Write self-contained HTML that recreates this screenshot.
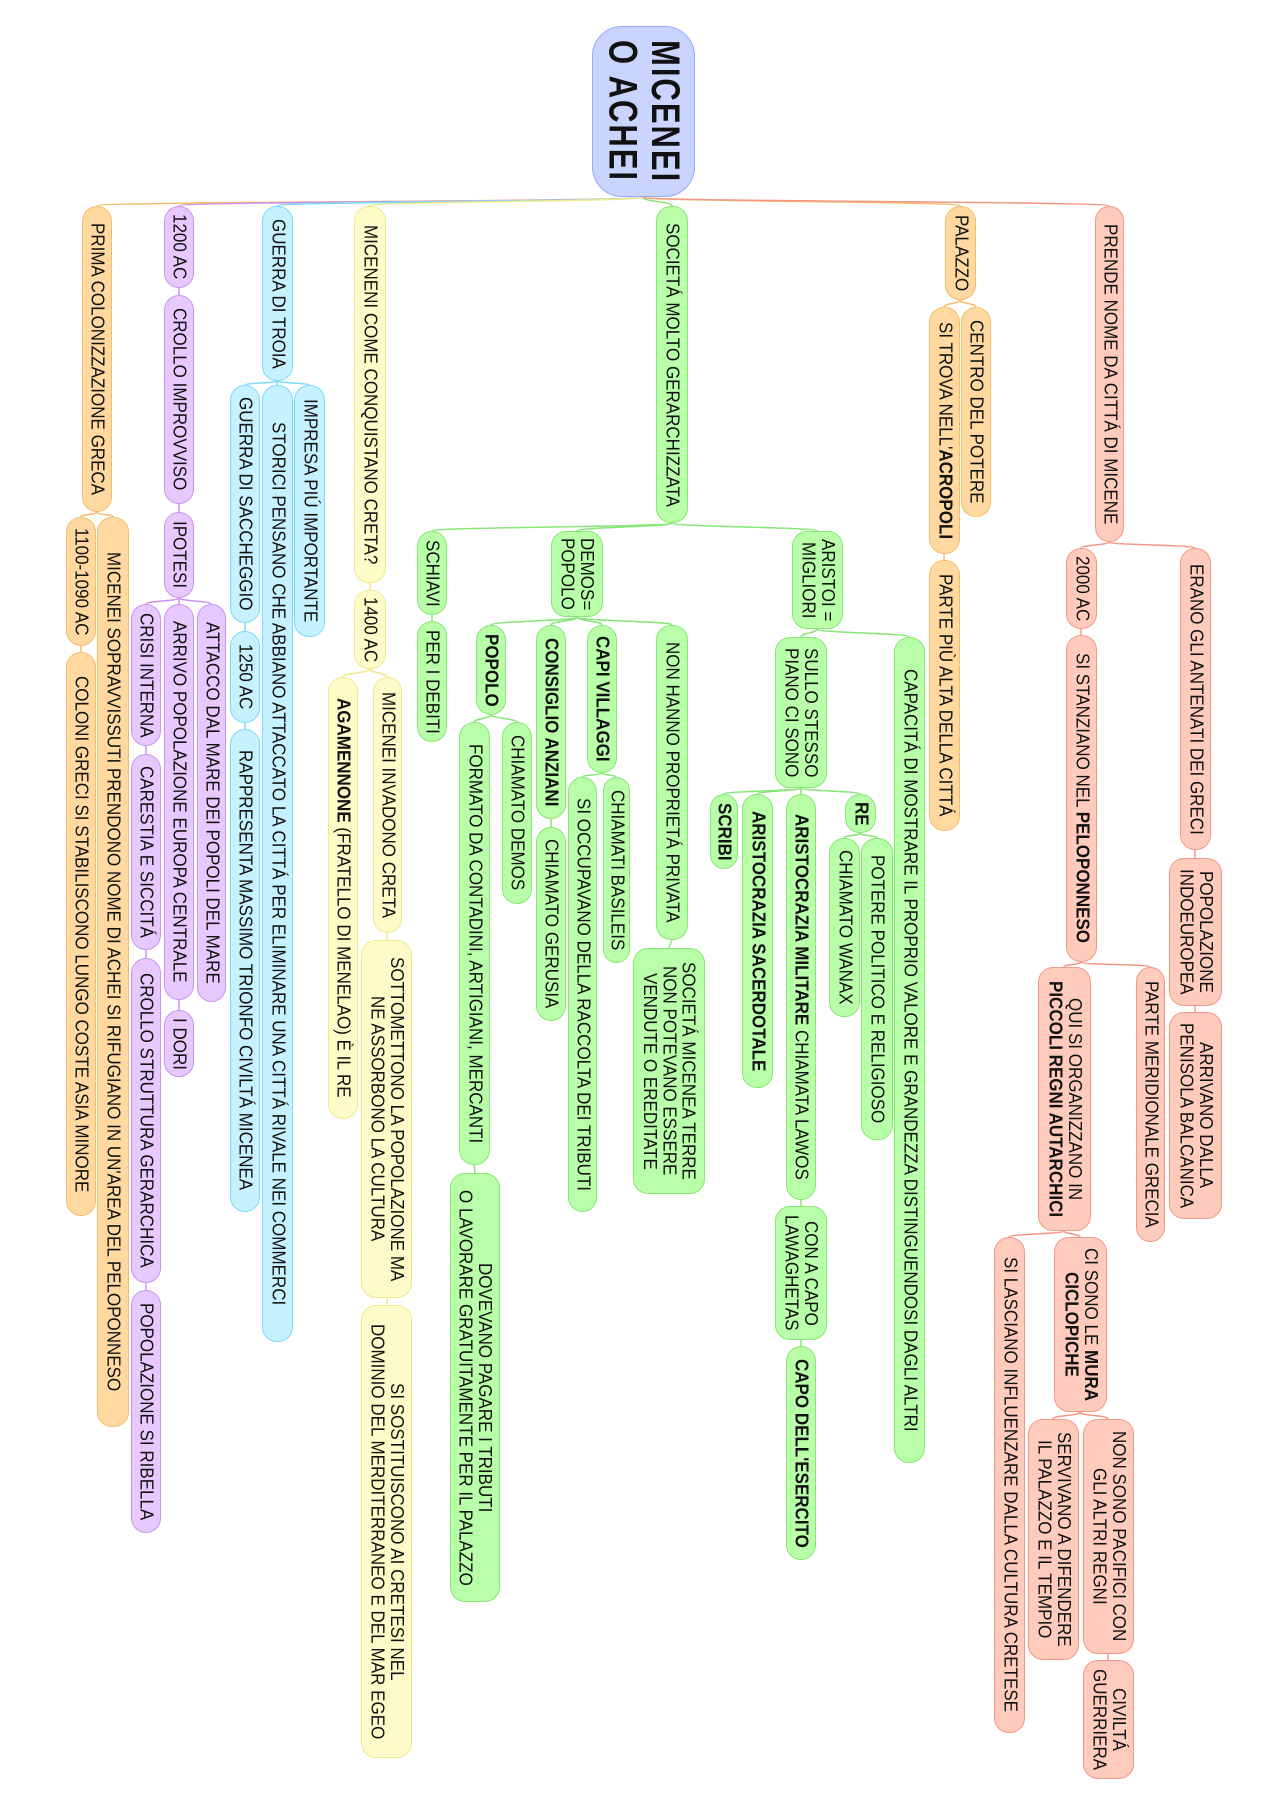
<!DOCTYPE html>
<html><head><meta charset="utf-8">
<style>
html,body{margin:0;padding:0;background:#fff}
#w{position:relative;width:1280px;height:1811px;overflow:hidden;font-family:"Liberation Sans",Arial,sans-serif}
svg{position:absolute;left:0;top:0}
.n{position:absolute;box-sizing:border-box;border:1.5px solid;border-radius:15px;display:flex;align-items:center;justify-content:center;overflow:visible}
.n span{writing-mode:vertical-rl;white-space:nowrap;font-size:17px;line-height:1.05;text-align:center;color:#111;transform:scaleX(1.08)}
.o{background:#ffd9a0;border-color:#f5bd6c}
.p{background:#e8c9ff;border-color:#c893f0}
.b{background:#c6f1ff;border-color:#7cd9fb}
.y{background:#fffbc8;border-color:#eee98a}
.g{background:#b9ffa9;border-color:#88e676}
.r{background:#ffcbbd;border-color:#f39886}
.root{background:#c9d5ff;border-color:#93aaff;border-radius:30px}
.root span{font-size:31px;font-weight:bold;letter-spacing:2px;line-height:1.05;transform:scaleX(1.3)}
b{font-weight:bold}
</style></head><body><div id="w">
<svg width="1280" height="1811" fill="none" stroke-width="1.5">
<g stroke="#f5bd6c">
<path d="M643 197 C643 202,97 201,97 206"/>
<path d="M643 197 C643 202,960 201,960 206"/>
<path d="M97 512 C97 515,81 514,81 517"/><path d="M97 512 C97 515,113 514,113 517"/>
<path d="M81 646 C81 649,81 649,81 652"/>
<path d="M960 300 C960 304,976 303,976 307"/><path d="M960 300 C960 304,944 303,944 307"/>
<path d="M944 554 L944 560"/>
</g>
<g stroke="#c893f0">
<path d="M643 197 C643 202,179 201,179 206"/>
<path d="M179 288 L179 295"/><path d="M179 504 L179 512"/>
<path d="M179 598 C179 601,146 601,146 604"/><path d="M179 598 L179 604"/><path d="M179 598 C179 601,211 601,211 604"/>
<path d="M146 746 L146 754"/><path d="M146 950 L146 958"/><path d="M146 1283 L146 1290"/>
<path d="M179 1000 L179 1010"/>
</g>
<g stroke="#7cd9fb">
<path d="M643 197 C643 202,277 201,277 206"/>
<path d="M277 381 C277 383,245 383,245 385"/><path d="M277 381 L277 385"/><path d="M277 381 C277 383,309 383,309 385"/>
<path d="M245 623 L245 631"/><path d="M245 723 L245 729"/>
</g>
<g stroke="#eee98a">
<path d="M643 197 C643 202,370 201,370 206"/>
<path d="M370 583 L370 590"/>
<path d="M370 669 C370 673,387 673,387 677"/><path d="M370 669 C370 673,343 673,343 677"/>
<path d="M387 933 L387 940"/><path d="M387 1298 L387 1305"/>
</g>
<g stroke="#88e676">
<path d="M643 197 C643 202,672 201,672 206"/>
<path d="M672 523 C672 527,432 527,432 531"/><path d="M672 523 C672 527,577 527,577 531"/><path d="M672 523 C672 527,817 527,817 531"/>
<path d="M432 615 L432 621"/>
<path d="M577 617 C577 621,491 621,491 625"/><path d="M577 617 C577 621,551 621,551 625"/><path d="M577 617 C577 621,602 621,602 625"/><path d="M577 617 C577 621,672 621,672 625"/>
<path d="M491 715 C491 718,517 719,517 722"/><path d="M491 715 C491 718,474 719,474 722"/>
<path d="M474 1165 L475 1173"/><path d="M551 819 L551 827"/>
<path d="M602 773 C602 775,616 775,616 777"/><path d="M602 773 C602 775,582 775,582 777"/>
<path d="M672 940 L669 948"/>
<path d="M817 629 C817 633,801 633,801 637"/><path d="M817 629 C817 633,909 633,909 637"/>
<path d="M801 788 C801 791,724 791,724 794"/><path d="M801 788 C801 791,757 791,757 794"/><path d="M801 788 L801 794"/><path d="M801 788 C801 791,860 791,860 794"/>
<path d="M860 833 C860 836,844 835,844 838"/><path d="M860 833 C860 836,877 835,877 838"/>
<path d="M801 1200 L801 1206"/><path d="M801 1340 L801 1346"/>
</g>
<g stroke="#f39886">
<path d="M643 197 C643 202,1109 201,1109 206"/>
<path d="M1109 542 C1109 545,1081 545,1081 548"/><path d="M1109 542 C1109 545,1195 545,1195 548"/>
<path d="M1081 629 L1081 635"/>
<path d="M1195 850 L1195 858"/><path d="M1195 1006 L1195 1012"/>
<path d="M1081 962 C1081 965,1064 964,1064 967"/><path d="M1081 962 C1081 965,1150 964,1150 967"/>
<path d="M1064 1231 C1064 1234,1009 1234,1009 1237"/><path d="M1064 1231 C1064 1234,1080 1234,1080 1237"/>
<path d="M1080 1412 C1080 1416,1053 1415,1053 1419"/><path d="M1080 1412 C1080 1416,1108 1415,1108 1419"/>
<path d="M1108 1654 L1108 1660"/>
</g>
</svg>

<div class="n root" style="left:592px;top:26px;width:103px;height:171px"><span>MICENEI<br>O ACHEI</span></div>

<div class="n o" style="left:82px;top:206px;width:30px;height:306px"><span>PRIMA COLONIZZAZIONE GRECA</span></div>
<div class="n p" style="left:164px;top:206px;width:30px;height:82px"><span>1200 AC</span></div>
<div class="n p" style="left:164px;top:295px;width:30px;height:209px"><span>CROLLO IMPROVVISO</span></div>
<div class="n p" style="left:164px;top:512px;width:30px;height:86px"><span>IPOTESI</span></div>
<div class="n b" style="left:262px;top:206px;width:31px;height:175px"><span>GUERRA DI TROIA</span></div>
<div class="n b" style="left:230px;top:385px;width:30px;height:238px"><span>GUERRA DI SACCHEGGIO</span></div>
<div class="n b" style="left:262px;top:385px;width:31px;height:957px"><span>STORICI PENSANO CHE ABBIANO ATTACCATO LA CITTÁ PER ELIMINARE UNA CITTÁ RIVALE NEI COMMERCI</span></div>
<div class="n b" style="left:294px;top:385px;width:31px;height:252px"><span>IMPRESA PIÚ IMPORTANTE</span></div>
<div class="n y" style="left:354px;top:206px;width:32px;height:377px"><span>MICENENI COME CONQUISTANO CRETA?</span></div>
<div class="n g" style="left:656px;top:206px;width:32px;height:317px"><span>SOCIETÁ MOLTO GERARCHIZZATA</span></div>
<div class="n o" style="left:945px;top:206px;width:31px;height:94px"><span>PALAZZO</span></div>
<div class="n o" style="left:961px;top:307px;width:30px;height:210px"><span>CENTRO DEL POTERE</span></div>
<div class="n o" style="left:929px;top:307px;width:31px;height:247px"><span>SI TROVA NELL'<b>ACROPOLI</b></span></div>
<div class="n o" style="left:929px;top:560px;width:31px;height:271px"><span>PARTE PIÙ ALTA DELLA CITTÁ</span></div>
<div class="n r" style="left:1095px;top:206px;width:29px;height:336px"><span>PRENDE NOME DA CITTÁ DI MICENE</span></div>
<div class="n r" style="left:1066px;top:548px;width:31px;height:81px"><span>2000 AC</span></div>
<div class="n r" style="left:1180px;top:548px;width:31px;height:302px"><span>ERANO GLI ANTENATI DEI GRECI</span></div>
<div class="n g" style="left:417px;top:531px;width:30px;height:84px"><span>SCHIAVI</span></div>
<div class="n g" style="left:551px;top:531px;width:52px;height:86px"><span>DEMOS=<br>POPOLO</span></div>
<div class="n g" style="left:792px;top:531px;width:51px;height:98px"><span>ARISTOI =<br>MIGLIORI</span></div>
<div class="n g" style="left:417px;top:621px;width:30px;height:121px"><span>PER I DEBITI</span></div>
<div class="n y" style="left:354px;top:590px;width:32px;height:79px"><span>1400 AC</span></div>
<div class="n y" style="left:373px;top:677px;width:29px;height:256px"><span>MICENEI INVADONO CRETA</span></div>
<div class="n y" style="left:328px;top:677px;width:30px;height:442px"><span><b>AGAMENNONE</b> (FRATELLO DI MENELAO) È IL RE</span></div>
<div class="n y" style="left:361px;top:940px;width:51px;height:358px"><span>SOTTOMETTONO LA POPOLAZIONE MA<br>NE ASSORBONO LA CULTURA</span></div>
<div class="n y" style="left:361px;top:1305px;width:51px;height:453px"><span>SI SOSTITUISCONO AI CRETESI NEL<br>DOMINIO DEL MERDITERRANEO E DEL MAR EGEO</span></div>
<div class="n b" style="left:230px;top:631px;width:30px;height:92px"><span>1250 AC</span></div>
<div class="n b" style="left:230px;top:729px;width:30px;height:483px"><span>RAPPRESENTA MASSIMO TRIONFO CIVILTÁ MICENEA</span></div>
<div class="n p" style="left:131px;top:604px;width:30px;height:142px"><span>CRISI INTERNA</span></div>
<div class="n p" style="left:164px;top:604px;width:30px;height:396px"><span>ARRIVO POPOLAZIONE EUROPA CENTRALE</span></div>
<div class="n p" style="left:197px;top:604px;width:29px;height:398px"><span>ATTACCO DAL MARE DEI POPOLI DEL MARE</span></div>
<div class="n p" style="left:131px;top:754px;width:30px;height:196px"><span>CARESTIA E SICCITÁ</span></div>
<div class="n p" style="left:131px;top:958px;width:30px;height:325px"><span>CROLLO STRUTTURA GERARCHICA</span></div>
<div class="n p" style="left:131px;top:1290px;width:30px;height:243px"><span>POPOLAZIONE SI RIBELLA</span></div>
<div class="n p" style="left:164px;top:1010px;width:30px;height:67px"><span>I DORI</span></div>
<div class="n o" style="left:66px;top:517px;width:30px;height:129px"><span>1100-1090 AC</span></div>
<div class="n o" style="left:97px;top:517px;width:32px;height:910px"><span>MICENEI SOPRAVVISSUTI PRENDONO NOME DI ACHEI SI RIFUGIANO IN UN'AREA DEL PELOPONNESO</span></div>
<div class="n o" style="left:66px;top:652px;width:30px;height:564px"><span>COLONI GRECI SI STABILISCONO LUNGO COSTE ASIA MINORE</span></div>
<div class="n g" style="left:476px;top:625px;width:30px;height:90px"><span><b>POPOLO</b></span></div>
<div class="n g" style="left:536px;top:625px;width:30px;height:194px"><span><b>CONSIGLIO ANZIANI</b></span></div>
<div class="n g" style="left:587px;top:625px;width:30px;height:148px"><span><b>CAPI VILLAGGI</b></span></div>
<div class="n g" style="left:656px;top:625px;width:32px;height:315px"><span>NON HANNO PROPRIETÁ PRIVATA</span></div>
<div class="n g" style="left:502px;top:722px;width:30px;height:182px"><span>CHIAMATO DEMOS</span></div>
<div class="n g" style="left:459px;top:722px;width:31px;height:443px"><span>FORMATO DA CONTADINI, ARTIGIANI, MERCANTI</span></div>
<div class="n g" style="left:450px;top:1173px;width:50px;height:429px"><span>DOVEVANO PAGARE I TRIBUTI<br>O LAVORARE GRATUITAMENTE PER IL PALAZZO</span></div>
<div class="n g" style="left:536px;top:827px;width:30px;height:194px"><span>CHIAMATO GERUSIA</span></div>
<div class="n g" style="left:603px;top:777px;width:27px;height:186px"><span>CHIAMATI BASILEIS</span></div>
<div class="n g" style="left:568px;top:777px;width:29px;height:435px"><span>SI OCCUPAVANO DELLA RACCOLTA DEI TRIBUTI</span></div>
<div class="n g" style="left:633px;top:948px;width:72px;height:246px"><span>SOCIETÁ MICENEA TERRE<br>NON POTEVANO ESSERE<br>VENDUTE O EREDITATE</span></div>
<div class="n g" style="left:775px;top:637px;width:52px;height:151px"><span>SULLO STESSO<br>PIANO CI SONO</span></div>
<div class="n g" style="left:894px;top:637px;width:31px;height:826px"><span>CAPACITÁ DI MOSTRARE IL PROPRIO VALORE E GRANDEZZA DISTINGUENDOSI DAGLI ALTRI</span></div>
<div class="n g" style="left:710px;top:794px;width:28px;height:75px"><span><b>SCRIBI</b></span></div>
<div class="n g" style="left:742px;top:794px;width:31px;height:294px"><span><b>ARISTOCRAZIA SACERDOTALE</b></span></div>
<div class="n g" style="left:786px;top:794px;width:30px;height:406px"><span><b>ARISTOCRAZIA MILITARE</b> CHIAMATA LAWOS</span></div>
<div class="n g" style="left:845px;top:794px;width:31px;height:39px"><span><b>RE</b></span></div>
<div class="n g" style="left:829px;top:838px;width:31px;height:179px"><span>CHIAMATO WANAX</span></div>
<div class="n g" style="left:861px;top:838px;width:32px;height:302px"><span>POTERE POLITICO E RELIGIOSO</span></div>
<div class="n g" style="left:775px;top:1206px;width:52px;height:134px"><span>CON A CAPO<br>LAWAGHETAS</span></div>
<div class="n g" style="left:786px;top:1346px;width:30px;height:214px"><span><b>CAPO DELL'ESERCITO</b></span></div>
<div class="n r" style="left:1066px;top:635px;width:31px;height:327px"><span>SI STANZIANO NEL <b>PELOPONNESO</b></span></div>
<div class="n r" style="left:1169px;top:858px;width:53px;height:148px"><span>POPOLAZIONE<br>INDOEUROPEA</span></div>
<div class="n r" style="left:1169px;top:1012px;width:53px;height:207px"><span>ARRIVANO DALLA<br>PENISOLA BALCANICA</span></div>
<div class="n r" style="left:1038px;top:967px;width:53px;height:264px"><span>QUI SI ORGANIZZANO IN<br><b>PICCOLI REGNI AUTARCHICI</b></span></div>
<div class="n r" style="left:1136px;top:967px;width:29px;height:275px"><span>PARTE MERIDIONALE GRECIA</span></div>
<div class="n r" style="left:994px;top:1237px;width:31px;height:496px"><span>SI LASCIANO INFLUENZARE DALLA CULTURA CRETESE</span></div>
<div class="n r" style="left:1054px;top:1237px;width:53px;height:175px"><span>CI SONO LE <b>MURA</b><br><b>CICLOPICHE</b></span></div>
<div class="n r" style="left:1028px;top:1419px;width:51px;height:241px"><span>SERVIVANO A DIFENDERE<br>IL PALAZZO E IL TEMPIO</span></div>
<div class="n r" style="left:1083px;top:1419px;width:51px;height:235px"><span>NON SONO PACIFICI CON<br>GLI ALTRI REGNI</span></div>
<div class="n r" style="left:1083px;top:1660px;width:51px;height:119px"><span>CIVILTÁ<br>GUERRIERA</span></div>
</div></body></html>
